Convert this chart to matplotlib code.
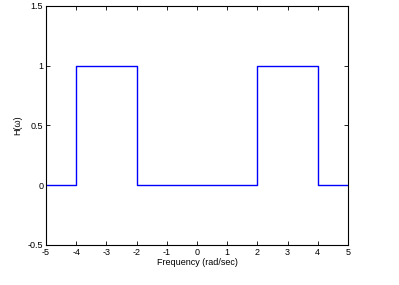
import matplotlib
matplotlib.use('Agg')
import matplotlib.pyplot as plt

# step response of the band filter
freq = [-5, -4, -4, -2, -2, 2, 2, 4, 4, 5]
H = [0, 0, 1, 1, 0, 0, 1, 1, 0, 0]

xticks = [-5, -4, -3, -2, -1, 0, 1, 2, 3, 4, 5]
yticks = [-0.5, 0, 0.5, 1, 1.5]

plt.rcParams['font.family'] = ['Liberation Sans', 'DejaVu Sans']

fig = plt.figure(figsize=(3.99, 2.85), dpi=100)
ax = fig.add_axes([0.1153, 0.1404, 0.7567, 0.8386])
ax.plot(freq, H, color='blue', lw=1)
ax.set_xlim(-5, 5)
ax.set_ylim(-0.5, 1.5)
ax.set_xticks(xticks)
ax.set_yticks(yticks)
ax.set_xticklabels([str(t) for t in xticks])
ax.set_yticklabels(['-0.5', '0', '0.5', '1', '1.5'])
ax.tick_params(direction='in', top=True, right=True, labelsize=6.5, length=3, width=0.6, pad=2)
for s in ax.spines.values():
    s.set_linewidth(0.8)
ax.set_xlabel('Frequency (rad/sec)', fontsize=6.5, labelpad=1)
ax.set_ylabel('H(\u03c9)', fontsize=6.5, labelpad=4)

fig.savefig('out.png', dpi=100)
